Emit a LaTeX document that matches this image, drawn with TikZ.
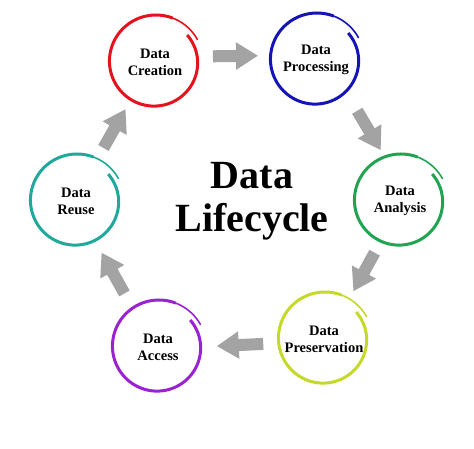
\documentclass[tikz,border=0pt]{standalone}
\usepackage{fontspec}
\setmainfont{Liberation Serif}
\usetikzlibrary{arrows.meta,calc}
\definecolor{ring_red}{HTML}{E3141E}
\definecolor{ring_blue}{HTML}{1515B5}
\definecolor{ring_green}{HTML}{1FA552}
\definecolor{ring_lime}{HTML}{C5D92A}
\definecolor{ring_purple}{HTML}{9B22D1}
\definecolor{ring_teal}{HTML}{1FA99B}
\definecolor{arrow_grey}{HTML}{A3A3A3}
\pgfmathsetmacro{\ringrad}{42}
\pgfmathsetmacro{\ringgrow}{6}

\begin{document}
\begin{tikzpicture}[x=1pt, y=-1pt,
    stage/.style={align=center, inner sep=0pt,
        font=\fontsize{14.5}{17}\selectfont\bfseries},
    flow/.style={arrow_grey, line width=12pt,
        -{Triangle[length=22pt, width=26pt]}}]
    \useasboundingbox (0,0) rectangle (474,448);
    % define stages
    \node[stage] (creation) at (155,62) {Data\\Creation};
    \node[stage] (processing) at (316,60) {Data\\Processing};
    \node[stage] (analysis) at (400,201) {Data\\Analysis};
    \node[stage] (preservation) at (324,339) {Data\\Preservation};
    \node[stage] (access) at (158,347) {Data\\Access};
    \node[stage] (reuse) at (76,201) {Data\\Reuse};
    % title
    \node[align=center, font=\fontsize{40}{43}\selectfont\bfseries] (title)
        at (252,201) {Data\\Lifecycle};
    % draw rings round the stages (open brush stroke)
    \foreach \n/\c in {creation/ring_red, processing/ring_blue,
        analysis/ring_green, preservation/ring_lime,
        access/ring_purple, reuse/ring_teal} {
        \draw[\c, line width=3pt, shift={(\n)}]
            plot[domain=0:332, samples=80, smooth]
            ({-40+\x}:{\ringrad+\ringgrow*\x/372});
        \draw[\c, line width=1.6pt, line cap=round, shift={(\n)}]
            plot[domain=328:372, samples=12, smooth]
            ({-40+\x}:{\ringrad+\ringgrow*\x/372});
    }
    % arrows between stages
    \foreach \a/\b/\dx/\dy in {creation/processing/0/-5,
        processing/analysis/11/0, analysis/preservation/2/2,
        preservation/access/-1/2, access/reuse/-4/-1,
        reuse/creation/-1/-3}
        \draw[flow] ($(\a)!0.36!(\b)+(\dx,\dy)$) -- ($(\a)!0.64!(\b)+(\dx,\dy)$);
\end{tikzpicture}
\end{document}
